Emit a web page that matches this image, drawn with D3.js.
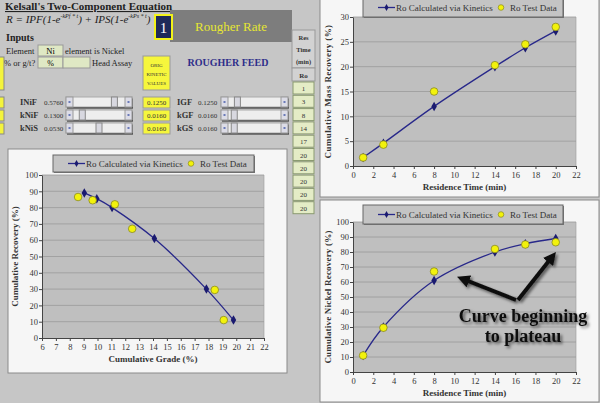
<!DOCTYPE html>
<html><head><meta charset="utf-8">
<script src="https://cdn.jsdelivr.net/npm/d3@7"></script>
<style>
html,body{margin:0;padding:0;background:#c6c6c6;}
svg, svg text{font-family:"Liberation Serif","Times New Roman",Times,serif;}
</style></head>
<body>
<svg id="c" width="600" height="403"></svg>
<script>
// ---------- data ----------
const gradeCalc = [9.05, 9.95, 11.05, 14.1, 17.85, 19.8];
const recovCalc = [89, 85.5, 80, 61, 30, 11];
const gradeTest = [8.6, 9.65, 11.25, 12.5, 18.45, 19.1];
const recovTest = [86.5, 84.5, 82, 67, 29.5, 11];

const timeCalc = [1, 3, 8, 14, 17, 20];
const massCalc = [1.7, 4.6, 12, 20, 23.8, 27.2];
const timeTest = [1, 3, 8, 14, 17, 20];
const massTest = [1.7, 4.3, 15, 20.3, 24.5, 28];

const nickelCalc = [11, 30, 61, 80, 85.5, 89];
const nickelTest = [11, 29.5, 67, 82, 85, 86.5];

const resTimes = [1, 3, 8, 14, 17, 20, 20, 20, 20, 20];
const sliderLeftLabels = ["INiF", "kNiF", "kNiS"];
const sliderLeftValues = ["0.5760", "0.1300", "0.0530"];
const origKinetic = ["0.1250", "0.0160", "0.0160"];
const sliderRightLabels = ["IGF", "kGF", "kGS"];
const sliderRightValues = ["0.1250", "0.0160", "0.0160"];
const sliderLeftPos = [0.85, 0.12, 0.5];
const sliderRightPos = [0.12, 0.05, 0.05];

const legendCalc = "Ro Calculated via Kinetics";
const legendTest = "Ro Test Data";

// ---------- drawing ----------
const FONT = "Liberation Serif, Times New Roman, serif";
const svg = d3.select("#c").attr("font-family", FONT);
const NAVY = "#28288a";

svg.append("rect").attr("width",600).attr("height",403).attr("fill","#c6c6c6");

// header
svg.append("text").attr("x",5).attr("y",10).attr("font-size",11).attr("font-weight","bold")
  .attr("fill","#222").attr("text-decoration","underline").text("Kelsall's Two-Component Equation");
const eq = svg.append("text").attr("x",6).attr("y",23).attr("font-size",11).attr("font-style","italic").attr("fill","#222");
eq.append("tspan").text("R = IPF(1-e");
eq.append("tspan").attr("dy",-5).attr("font-size",6).text("-kPf * t");
eq.append("tspan").attr("dy",5).text(") + IPS(1-e");
eq.append("tspan").attr("dy",-5).attr("font-size",6).text("-kPs * t");
eq.append("tspan").attr("dy",5).text(")");

// "1" box and Rougher Rate
svg.append("rect").attr("x",170).attr("y",10).attr("width",122).attr("height",32).attr("fill","#7d7d7d");
svg.append("text").attr("x",231).attr("y",31).attr("text-anchor","middle").attr("font-size",13).attr("fill","#e6e632").text("Rougher Rate");
svg.append("rect").attr("x",155).attr("y",15).attr("width",17).attr("height",24).attr("fill","#1e2a5a").attr("stroke","#f2f21a").attr("stroke-width",2);
svg.append("text").attr("x",163.5).attr("y",33).attr("text-anchor","middle").attr("font-size",15).attr("fill","#fff").text("1");

// Inputs
svg.append("text").attr("x",6).attr("y",41).attr("font-size",10).attr("font-weight","bold").attr("fill","#222").text("Inputs");
svg.append("text").attr("x",6).attr("y",54).attr("font-size",8.5).attr("fill","#222").text("Element");
svg.append("rect").attr("x",38).attr("y",45).attr("width",25).attr("height",11).attr("fill","#dfe8c4").attr("stroke","#999");
svg.append("text").attr("x",50.5).attr("y",53.5).attr("text-anchor","middle").attr("font-size",8.5).text("Ni");
svg.append("text").attr("x",65).attr("y",54).attr("font-size",8.5).attr("fill","#222").text("element is Nickel");
svg.append("text").attr("x",4).attr("y",66).attr("font-size",8.5).attr("fill","#222").text("% or g/t?");
svg.append("rect").attr("x",38).attr("y",57).attr("width",25).attr("height",11).attr("fill","#dfe8c4").attr("stroke","#999");
svg.append("rect").attr("x",63).attr("y",57).attr("width",27).attr("height",11).attr("fill","#dfe8c4").attr("stroke","#999");
svg.append("text").attr("x",50.5).attr("y",65.5).attr("text-anchor","middle").attr("font-size",8).text("%");
svg.append("text").attr("x",92).attr("y",66).attr("font-size",8.5).attr("fill","#222").text("Head Assay");

// left edge yellow stubs
[57,97,110,123].forEach((y,i)=>{
  svg.append("rect").attr("x",-2).attr("y",y).attr("width",6).attr("height",i===0?33:11).attr("fill","#f4f43c").attr("stroke","#888");
});

// ORIG KINETIC VALUES
svg.append("rect").attr("x",143).attr("y",56).attr("width",27).attr("height",34).attr("fill","#f6f63c").attr("stroke","#999");
["ORIG","KINETIC","VALUES"].forEach((t,i)=>svg.append("text").attr("x",156.5).attr("y",67+i*9).attr("text-anchor","middle").attr("font-size",5).attr("fill","#333").text(t));
svg.append("text").attr("x",228).attr("y",66).attr("text-anchor","middle").attr("font-size",10).attr("font-weight","bold").attr("fill","#2e2e8a").text("ROUGHER FEED");

function slider(x,y,w,pos){
  const g = svg.append("g");
  g.append("rect").attr("x",x+1).attr("y",y+1.5).attr("width",w).attr("height",10).attr("fill","#222");
  g.append("rect").attr("x",x).attr("y",y).attr("width",w).attr("height",10).attr("fill","#eeeeee").attr("stroke","#aaa");
  g.append("rect").attr("x",x).attr("y",y).attr("width",7).attr("height",10).attr("fill","#dcdce6").attr("stroke","#999");
  g.append("rect").attr("x",x+w-7).attr("y",y).attr("width",7).attr("height",10).attr("fill","#dcdce6").attr("stroke","#999");
  g.append("rect").attr("x",x+2.5).attr("y",y+4).attr("width",2).attr("height",2).attr("fill","#6a7ab8");
  g.append("rect").attr("x",x+w-4.5).attr("y",y+4).attr("width",2).attr("height",2).attr("fill","#6a7ab8");
  const tx = x+8+pos*(w-22);
  g.append("rect").attr("x",tx).attr("y",y).attr("width",6).attr("height",10).attr("fill","#d8d8e0").attr("stroke","#888");
}
sliderLeftLabels.forEach((lab,i)=>{
  const y = 97+i*13;
  svg.append("text").attr("x",20).attr("y",y+8).attr("font-size",8.5).attr("font-weight","bold").attr("fill","#333").text(lab);
  svg.append("text").attr("x",44).attr("y",y+8).attr("font-size",7).attr("fill","#333").text(sliderLeftValues[i]);
  slider(66,y,66,sliderLeftPos[i]);
  svg.append("rect").attr("x",143).attr("y",y).attr("width",27).attr("height",11).attr("fill","#f6f63c").attr("stroke","#999");
  svg.append("text").attr("x",156.5).attr("y",y+8).attr("text-anchor","middle").attr("font-size",7).attr("fill","#333").text(origKinetic[i]);
  svg.append("text").attr("x",177).attr("y",y+8).attr("font-size",8.5).attr("font-weight","bold").attr("fill","#333").text(sliderRightLabels[i]);
  svg.append("text").attr("x",198).attr("y",y+8).attr("font-size",7).attr("fill","#333").text(sliderRightValues[i]);
  slider(221,y,67,sliderRightPos[i]);
});

// Res Time table
svg.append("rect").attr("x",292).attr("y",30).attr("width",23).attr("height",38).attr("fill","#d2d2d2").attr("stroke","#999");
["Res","Time","(min)"].forEach((t,i)=>svg.append("text").attr("x",303.5).attr("y",40+i*12).attr("text-anchor","middle").attr("font-size",6.5).attr("font-weight","bold").attr("fill","#333").text(t));
svg.append("rect").attr("x",292).attr("y",68).attr("width",23).attr("height",13).attr("fill","#d2d2d2").attr("stroke","#999");
svg.append("text").attr("x",303.5).attr("y",77.5).attr("text-anchor","middle").attr("font-size",7).attr("font-weight","bold").attr("fill","#333").text("Ro");
resTimes.forEach((v,i)=>{
  const y = 82+i*13.3;
  svg.append("rect").attr("x",293).attr("y",y).attr("width",21).attr("height",12).attr("fill","#e4ecc6").attr("stroke","#8a9a70");
  svg.append("text").attr("x",303.5).attr("y",y+9).attr("text-anchor","middle").attr("font-size",7).attr("fill","#333").text(v);
});

// ---------- generic chart ----------
function chart(o){
  const g = svg.append("g");
  g.append("rect").attr("x",o.box[0]).attr("y",o.box[1]).attr("width",o.box[2]).attr("height",o.box[3])
    .attr("fill","#f6f6f6").attr("stroke","#8a8a8a");
  const x = d3.scaleLinear().domain(o.xd).range([o.pl,o.pr]);
  const y = d3.scaleLinear().domain(o.yd).range([o.pb,o.pt]);
  g.append("rect").attr("x",o.pl).attr("y",o.pt).attr("width",o.pr-o.pl).attr("height",o.pb-o.pt).attr("fill","#bfbfbf");
  const yt = d3.range(o.yd[0],o.yd[1]+0.001,o.ys);
  const xt = d3.range(o.xd[0],o.xd[1]+0.001,o.xs);
  g.append("g").selectAll("line").data(yt.slice(1)).join("line")
    .attr("x1",o.pl).attr("x2",o.pr).attr("y1",d=>y(d)).attr("y2",d=>y(d)).attr("stroke","#9a9a9a").attr("stroke-width",0.8);
  g.append("line").attr("x1",o.pr).attr("x2",o.pr).attr("y1",o.pt).attr("y2",o.pb).attr("stroke","#9a9a9a").attr("stroke-width",0.6);
  const ya = g.append("g").attr("transform",`translate(${o.pl},0)`).call(d3.axisLeft(y).tickValues(yt).tickSize(3).tickSizeOuter(0));
  const xa = g.append("g").attr("transform",`translate(0,${o.pb})`).call(d3.axisBottom(x).tickValues(xt).tickSize(3).tickSizeOuter(0));
  [ya,xa].forEach(a=>{a.attr("font-family",FONT).attr("font-size",8.5);
    a.selectAll("path,line").attr("stroke","#444");
    a.selectAll("text").attr("font-family",FONT).attr("font-size",8.5).attr("fill","#333");});
  ya.selectAll("text").attr("x",-4);
  xa.selectAll("text").attr("y",6);
  g.append("text").attr("x",(o.pl+o.pr)/2).attr("y",o.xTitleY).attr("text-anchor","middle").attr("font-size",9).attr("font-weight","bold").attr("fill","#333").text(o.xTitle);
  g.append("text").attr("transform",`translate(${o.yTitleX},${(o.pt+o.pb)/2}) rotate(-90)`).attr("text-anchor","middle")
    .attr("font-size",9).attr("font-weight","bold").attr("letter-spacing",o.ls||0).attr("fill","#333").text(o.yTitle);
  const calc = o.xc.map((d,i)=>[d,o.yc[i]]);
  const test = o.xt.map((d,i)=>[d,o.ytv[i]]);
  g.append("path").datum(calc).attr("fill","none").attr("stroke",NAVY).attr("stroke-width",1.3)
    .attr("d",d3.line().x(d=>x(d[0])).y(d=>y(d[1])).curve(d3.curveCatmullRom));
  g.append("g").selectAll("path").data(calc).join("path")
    .attr("transform",d=>`translate(${x(d[0])},${y(d[1])})`).attr("d",d3.symbol(d3.symbolDiamond,26)).attr("fill","#1a1a70");
  g.append("g").selectAll("circle").data(test).join("circle")
    .attr("cx",d=>x(d[0])).attr("cy",d=>y(d[1])).attr("r",3.8).attr("fill","#f2f20c").attr("stroke","#8a8a20").attr("stroke-width",0.8);
  // legend
  const [lx,ly,lw,lh] = o.leg;
  g.append("rect").attr("x",lx+1).attr("y",ly+1).attr("width",lw).attr("height",lh).attr("fill","#777");
  g.append("rect").attr("x",lx).attr("y",ly).attr("width",lw).attr("height",lh).attr("fill","#c4c4c4").attr("stroke","#666");
  const cy = ly+lh/2;
  g.append("line").attr("x1",lx+15).attr("x2",lx+32).attr("y1",cy).attr("y2",cy).attr("stroke",NAVY).attr("stroke-width",1.3);
  g.append("path").attr("transform",`translate(${lx+23.5},${cy})`).attr("d",d3.symbol(d3.symbolDiamond,14)).attr("fill","#1a1a70");
  g.append("text").attr("x",lx+33).attr("y",cy+3).attr("font-size",9).attr("fill","#333").text(legendCalc);
  g.append("circle").attr("cx",lx+138).attr("cy",cy).attr("r",2.8).attr("fill","#f2f20c").attr("stroke","#8a8a20").attr("stroke-width",0.7);
  g.append("text").attr("x",lx+147).attr("y",cy+3).attr("font-size",9).attr("fill","#333").text(legendTest);
  return {x,y,g};
}

// left chart: recovery vs grade
chart({box:[8,149,279,224], pl:42, pr:264, pt:175, pb:338, xd:[6,22], xs:1, yd:[0,100], ys:10,
  xc:gradeCalc, yc:recovCalc, xt:gradeTest, ytv:recovTest,
  xTitle:"Cumulative Grade (%)", xTitleY:362, yTitle:"Cumulative Recovery (%)", yTitleX:18,
  leg:[53,155,201,17]});

// top right: mass recovery
chart({box:[320,-3,279,200], pl:353, pr:576, pt:17, pb:166, xd:[0,22], xs:2, yd:[0,30], ys:5,
  xc:timeCalc, yc:massCalc, xt:timeTest, ytv:massTest,
  xTitle:"Residence Time (min)", xTitleY:190, yTitle:"Cumulative  Mass  Recovery  (%)", yTitleX:331, ls:0.4,
  leg:[363,-2,200,19]});

// bottom right: nickel recovery
chart({box:[320,200,279,202], pl:353, pr:576, pt:222, pb:372, xd:[0,22], xs:2, yd:[0,100], ys:10,
  xc:timeCalc, yc:nickelCalc, xt:timeTest, ytv:nickelTest,
  xTitle:"Residence Time (min)", xTitleY:396, yTitle:"Cumulative  Nickel  Recovery  (%)", yTitleX:331, ls:0.2,
  leg:[363,205,200,19]});

// annotation
const defs = svg.append("defs");
const f = defs.append("filter").attr("id","sh").attr("x","-20%").attr("y","-20%").attr("width","150%").attr("height","150%");
f.append("feDropShadow").attr("dx",2).attr("dy",2).attr("stdDeviation",1.5).attr("flood-color","#000").attr("flood-opacity",0.55);
const mk = defs.append("marker").attr("id","ah").attr("viewBox","0 0 10 10").attr("refX",5).attr("refY",5)
  .attr("markerWidth",3.2).attr("markerHeight",3.2).attr("orient","auto-start-reverse");
mk.append("path").attr("d","M0,0 L10,5 L0,10 z").attr("fill","#111");
const ann = svg.append("g").attr("filter","url(#sh)");
ann.append("line").attr("x1",516).attr("y1",300).attr("x2",463).attr("y2",279).attr("stroke","#111").attr("stroke-width",4).attr("marker-end","url(#ah)");
ann.append("line").attr("x1",518).attr("y1",300).attr("x2",552).attr("y2",257).attr("stroke","#111").attr("stroke-width",4).attr("marker-end","url(#ah)");
ann.append("text").attr("x",523).attr("y",322).attr("text-anchor","middle").attr("font-size",18).attr("font-weight","bold").attr("fill","#111").text("Curve beginning");
ann.append("text").attr("x",523).attr("y",342).attr("text-anchor","middle").attr("font-size",18).attr("font-weight","bold").attr("fill","#111").text("to plateau");
</script>
</body></html>
